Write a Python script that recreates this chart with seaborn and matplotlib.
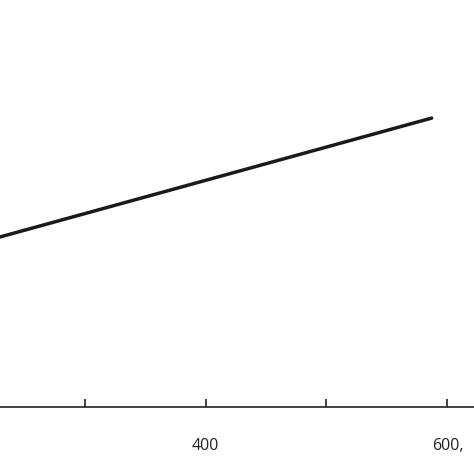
import matplotlib
matplotlib.use("Agg")
import matplotlib.pyplot as plt
import seaborn as sns
import pandas as pd

x_vals = [230, 587]
y_vals = [0.418, 0.71]
tick_pos = [300, 400, 500, 600]
tick_labels = ["", "400", "", "600,"]

sns.set_style("white")
plt.rcParams['font.family'] = ['Open Sans', 'DejaVu Sans']
fig = plt.figure(figsize=(4.74, 4.74), dpi=100)
ax = fig.add_axes([0, 0.141, 1, 0.859])
df = pd.DataFrame({"x": x_vals, "y": y_vals})
sns.lineplot(data=df, x="x", y="y", ax=ax, color="#1a1a1a", linewidth=2.5)
ax.set_xlim(230, 622)
ax.set_ylim(0, 1)
for s in ["top", "right", "left"]:
    ax.spines[s].set_visible(False)
ax.spines["bottom"].set_color("#222222")
ax.spines["bottom"].set_linewidth(1.2)
ax.set_yticks([])
ax.set_xticks(tick_pos)
ax.set_xticklabels(tick_labels, fontsize=11.5, color="#333333")
ax.tick_params(axis="x", bottom=True, direction="in", length=6, width=1.2,
               pad=22, colors="#222222")
ax.set_xlabel("")
ax.set_ylabel("")
fig.savefig("out.png", dpi=100)
